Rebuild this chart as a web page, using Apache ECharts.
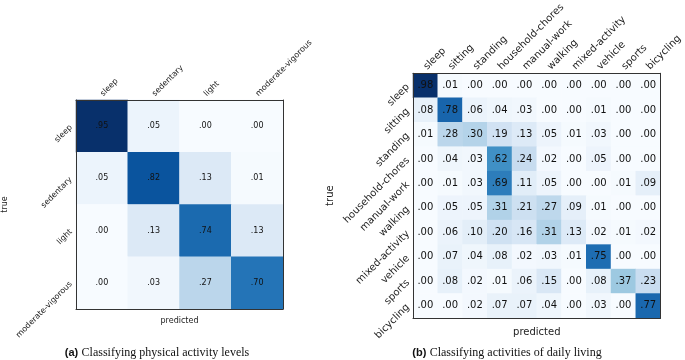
<!DOCTYPE html>
<html>
<head>
<meta charset="utf-8">
<script src="https://cdn.jsdelivr.net/npm/echarts@6/dist/echarts.min.js"></script>
<style>
  html, body { margin: 0; padding: 0; background: #fff; }
  #main { width: 685px; height: 360px; }
</style>
</head>
<body>
<div id="main"></div>
<script>
// physical activity levels (a)
const levelLabels = ['sleep', 'sedentary', 'light', 'moderate-vigorous'];
const levelMatrix = [
  [0.95, 0.05, 0.00, 0.00],
  [0.05, 0.82, 0.13, 0.01],
  [0.00, 0.13, 0.74, 0.13],
  [0.00, 0.03, 0.27, 0.70]
];

// activities of daily living (b)
const adlLabels = ['sleep', 'sitting', 'standing', 'household-chores', 'manual-work',
  'walking', 'mixed-activity', 'vehicle', 'sports', 'bicycling'];
const adlMatrix = [
  [0.98, 0.01, 0.00, 0.00, 0.00, 0.00, 0.00, 0.00, 0.00, 0.00],
  [0.08, 0.78, 0.06, 0.04, 0.03, 0.00, 0.00, 0.01, 0.00, 0.00],
  [0.01, 0.28, 0.30, 0.19, 0.13, 0.05, 0.01, 0.03, 0.00, 0.00],
  [0.00, 0.04, 0.03, 0.62, 0.24, 0.02, 0.00, 0.05, 0.00, 0.00],
  [0.00, 0.01, 0.03, 0.69, 0.11, 0.05, 0.00, 0.00, 0.01, 0.09],
  [0.00, 0.05, 0.05, 0.31, 0.21, 0.27, 0.09, 0.01, 0.00, 0.00],
  [0.00, 0.06, 0.10, 0.20, 0.16, 0.31, 0.13, 0.02, 0.01, 0.02],
  [0.00, 0.07, 0.04, 0.08, 0.02, 0.03, 0.01, 0.75, 0.00, 0.00],
  [0.00, 0.08, 0.02, 0.01, 0.06, 0.15, 0.00, 0.08, 0.37, 0.23],
  [0.00, 0.00, 0.02, 0.07, 0.07, 0.04, 0.00, 0.03, 0.00, 0.77]
];

// matplotlib "Blues"
const blues = ['#f7fbff', '#deebf7', '#c6dbef', '#9ecae1', '#6baed6',
  '#4292c6', '#2171b5', '#08519c', '#08306b'];

const font = 'DejaVu Sans';
const lineColor = '#333';

// matrix -> [col, row, value]
function toCells(m) {
  let out = [];
  m.forEach((row, r) => row.forEach((v, c) => out.push([c, r, v])));
  return out;
}
function fmt(p) {
  return p.value[2].toFixed(2).replace(/^0/, '');
}
function maxOf(m) {
  return Math.max.apply(null, m.map(r => Math.max.apply(null, r)));
}

// frame lines sit on top of the cells
const spine = {show: true, onZero: false, lineStyle: {color: lineColor, width: 1}};

function topAxis(gi, labels, size) {
  return {
    type: 'category', gridIndex: gi, position: 'top', data: labels, z: 5,
    axisLine: spine,
    axisTick: {alignWithLabel: true, length: 4, lineStyle: {color: lineColor}},
    axisLabel: {rotate: -45, interval: 0, margin: 5, fontFamily: font, fontSize: size, color: '#222'},
    splitLine: {show: false}
  };
}
function bottomAxis(gi, labels, size, gap) {
  return {
    type: 'category', gridIndex: gi, position: 'bottom', data: labels, z: 5,
    name: 'predicted', nameLocation: 'middle', nameGap: gap,
    nameTextStyle: {fontFamily: font, fontSize: size, color: '#222'},
    axisLine: spine,
    axisTick: {alignWithLabel: true, length: 4, lineStyle: {color: lineColor}},
    axisLabel: {show: false},
    splitLine: {show: false}
  };
}
function leftAxis(gi, labels, size, gap) {
  return {
    type: 'category', gridIndex: gi, inverse: true, data: labels, position: 'left', z: 5,
    name: 'true', nameLocation: 'middle', nameGap: gap, nameRotate: 90,
    nameTextStyle: {fontFamily: font, fontSize: size, color: '#222'},
    axisLine: spine,
    axisTick: {alignWithLabel: true, length: 4, lineStyle: {color: lineColor}},
    axisLabel: {rotate: 45, interval: 0, margin: 5, fontFamily: font, fontSize: size, color: '#222'},
    splitLine: {show: false}
  };
}
function rightFrame(gi, labels) {
  return {
    type: 'category', gridIndex: gi, inverse: true, data: labels, position: 'right', z: 5,
    axisLine: spine,
    axisTick: {show: false}, axisLabel: {show: false}, splitLine: {show: false}
  };
}

const chart = echarts.init(document.getElementById('main'));
chart.setOption({
  animation: false,
  backgroundColor: '#fff',
  grid: [
    {left: 74, top: 100, width: 209, height: 209},
    {left: 413, top: 69, width: 250, height: 249}
  ],
  xAxis: [
    topAxis(0, levelLabels, 8),
    bottomAxis(0, levelLabels, 8, 8),
    topAxis(1, adlLabels, 10),
    bottomAxis(1, adlLabels, 10, 9)
  ],
  yAxis: [
    leftAxis(0, levelLabels, 8, 67),
    rightFrame(0, levelLabels),
    leftAxis(1, adlLabels, 10, 78),
    rightFrame(1, adlLabels)
  ],
  visualMap: [
    {show: false, seriesIndex: 0, min: 0, max: maxOf(levelMatrix), inRange: {color: blues}},
    {show: false, seriesIndex: 1, min: 0, max: maxOf(adlMatrix), inRange: {color: blues}}
  ],
  series: [
    {
      type: 'heatmap', xAxisIndex: 0, yAxisIndex: 0, data: toCells(levelMatrix),
      label: {show: true, formatter: fmt, color: '#111', fontFamily: font, fontSize: 8},
      itemStyle: {borderWidth: 0}
    },
    {
      type: 'heatmap', xAxisIndex: 2, yAxisIndex: 2, data: toCells(adlMatrix),
      label: {show: true, formatter: fmt, color: '#111', fontFamily: font, fontSize: 10},
      itemStyle: {borderWidth: 0}
    }
  ],
  graphic: [
    {
      type: 'text', x: 157, y: 353,
      style: {
        text: '{b|(a)} {t|Classifying physical activity levels}',
        align: 'center', verticalAlign: 'middle',
        rich: {
          b: {fontFamily: 'Liberation Sans', fontWeight: 'bold', fontSize: 11, fill: '#111'},
          t: {fontFamily: 'Liberation Serif', fontSize: 12, fill: '#111'}
        }
      }
    },
    {
      type: 'text', x: 507, y: 353,
      style: {
        text: '{b|(b)} {t|Classifying activities of daily living}',
        align: 'center', verticalAlign: 'middle',
        rich: {
          b: {fontFamily: 'Liberation Sans', fontWeight: 'bold', fontSize: 11, fill: '#111'},
          t: {fontFamily: 'Liberation Serif', fontSize: 12, fill: '#111'}
        }
      }
    }
  ]
});
</script>
</body>
</html>
